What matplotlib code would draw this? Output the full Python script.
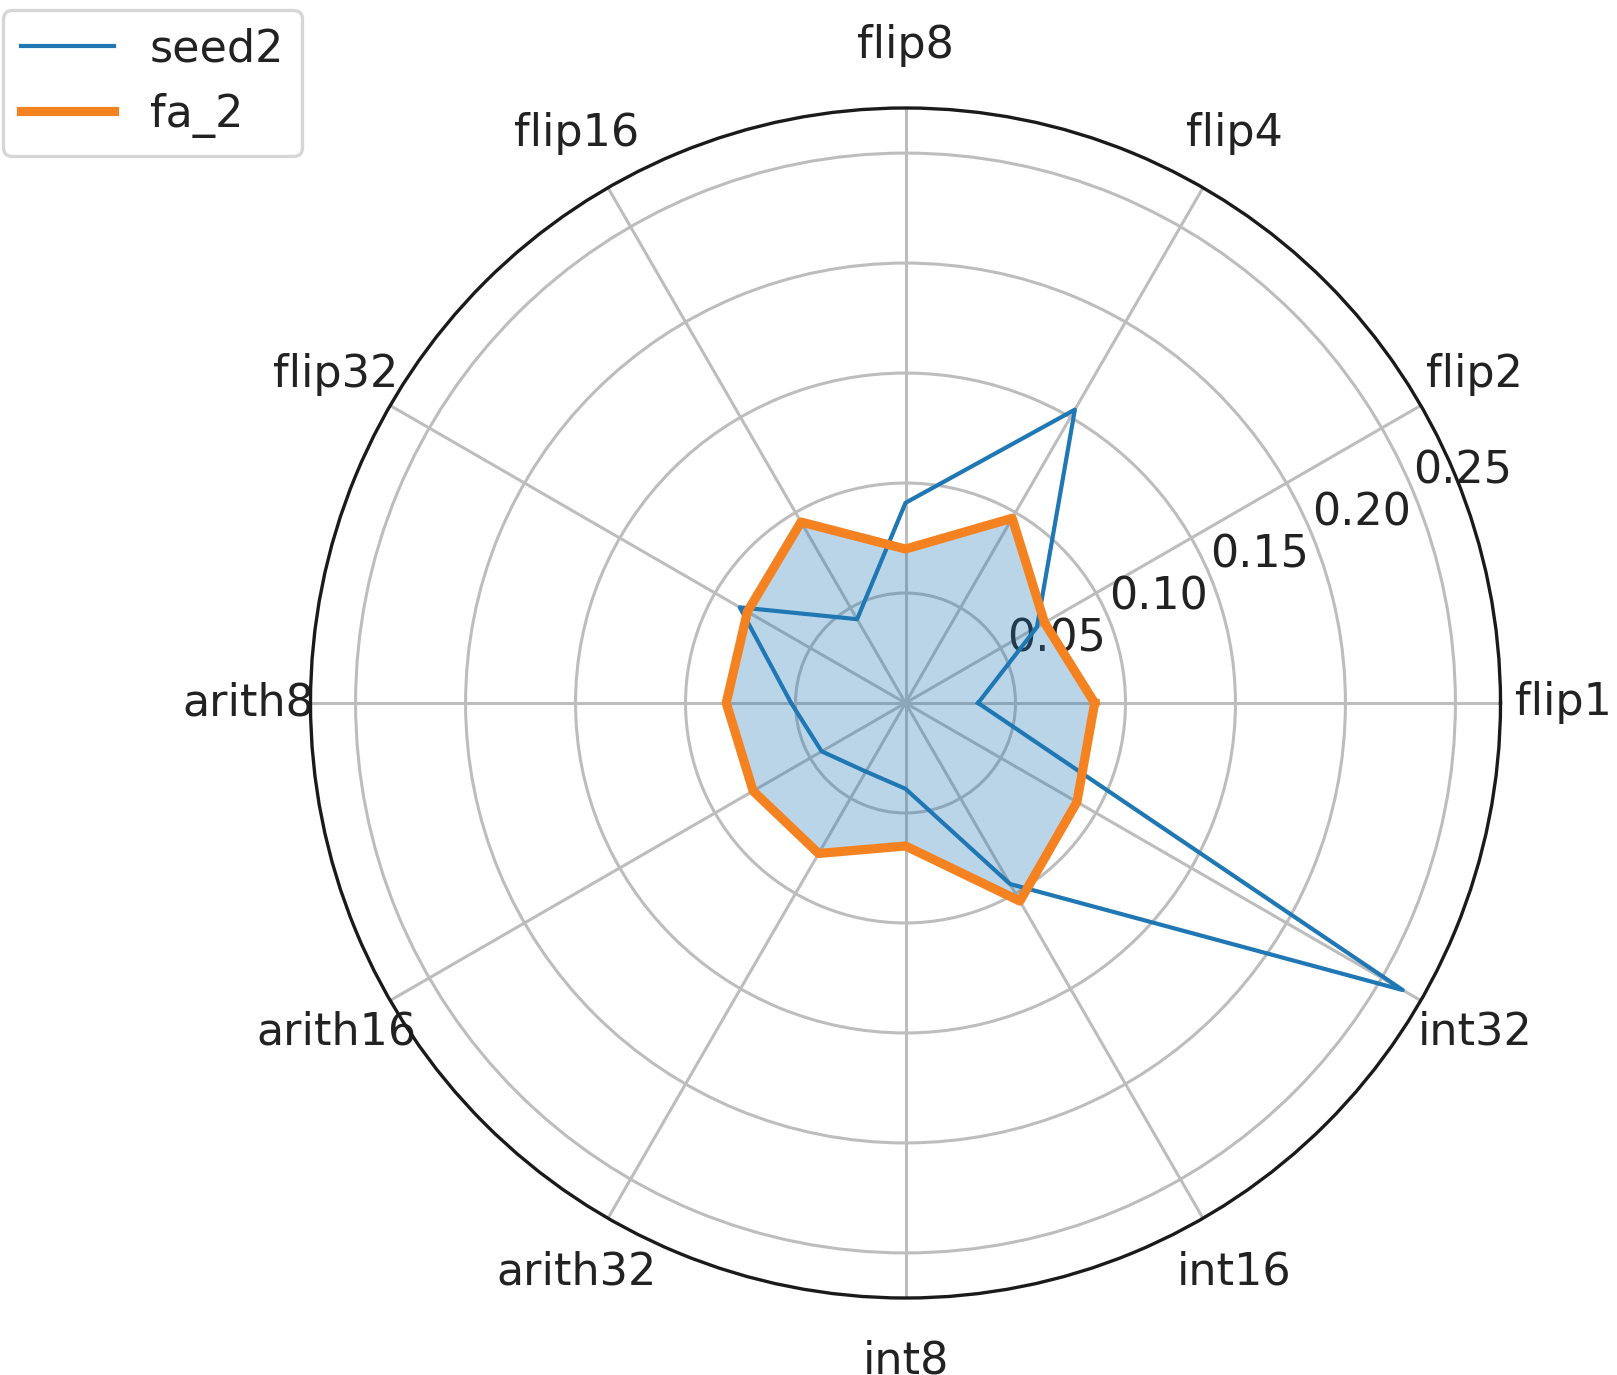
import numpy as np
import matplotlib
matplotlib.use("Agg")
import matplotlib.pyplot as plt

categories = ['flip1', 'flip2', 'flip4', 'flip8', 'flip16', 'flip32',
              'arith8', 'arith16', 'arith32', 'int8', 'int16', 'int32']
seed2 = [0.033, 0.069, 0.154, 0.091, 0.044, 0.087,
         0.052, 0.044, 0.036, 0.039, 0.095, 0.261]
fa_2 = [0.086, 0.073, 0.097, 0.070, 0.095, 0.083,
        0.0815, 0.080, 0.079, 0.065, 0.104, 0.090]
rticks = [0.05, 0.10, 0.15, 0.20, 0.25]
rtick_labels = ['0.05', '0.10', '0.15', '0.20', '0.25']

text_color = '#222222'
plt.rcParams['font.family'] = ['DejaVu Sans']
plt.rcParams['font.size'] = 16
plt.rcParams['text.color'] = text_color
plt.rcParams['xtick.color'] = text_color
plt.rcParams['ytick.color'] = text_color

W, H, DPI = 1617, 1375, 200
fig = plt.figure(figsize=(W / DPI, H / DPI), dpi=DPI)
cx, cy, R = 905.5, 703.0, 595.0
ax = fig.add_axes([(cx - R) / W, (H - cy - R) / H, 2 * R / W, 2 * R / H],
                  projection='polar')

n = len(categories)
angles = np.linspace(0, 2 * np.pi, n, endpoint=False)
ang_c = np.concatenate([angles, angles[:1]])
s_c = np.concatenate([seed2, seed2[:1]])
f_c = np.concatenate([fa_2, fa_2[:1]])

ax.plot(ang_c, s_c, color='#1f77b4', lw=1.5, label='seed2', zorder=3)
ax.plot(ang_c, f_c, color='#f58220', lw=3.3, label='fa_2', zorder=4)
ax.fill(ang_c, f_c, color='#1f77b4', alpha=0.3, lw=0, zorder=2)

ax.set_xticks(angles)
ax.set_xticklabels(categories)
ax.set_yticks(rticks)
ax.set_yticklabels(rtick_labels)
ax.set_ylim(0, 0.2705)
ax.set_rlabel_position(22.5)
ax.tick_params(axis='x', pad=12, labelsize=16)
ax.tick_params(axis='y', labelsize=16)
ax.grid(True, color='#bdbdbd', lw=1.1)
ax.spines['polar'].set_color('#1a1a1a')
ax.spines['polar'].set_linewidth(1.2)

leg = fig.legend(loc='upper left', bbox_to_anchor=(3 / W, 1 - 10 / H),
                 borderaxespad=0, frameon=True, fancybox=True,
                 handlelength=2.1, fontsize=16)
leg.get_frame().set_edgecolor('#cccccc')
leg.get_frame().set_linewidth(1.2)

fig.savefig('out.png', dpi=DPI)
